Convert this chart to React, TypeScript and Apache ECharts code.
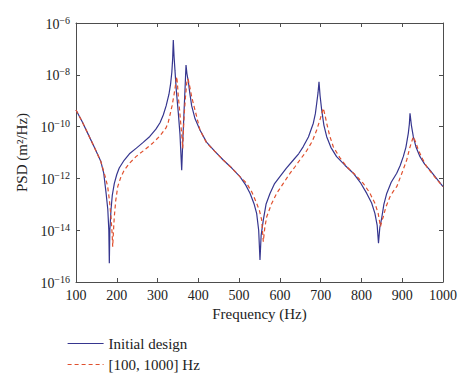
import React, { useEffect, useRef } from "react";
import * as echarts from "echarts";

// Frequency (Hz) and log10 of the PSD (m^2/Hz) for each design
const initialFreq = [100, 115, 130, 145, 161, 168, 174, 178, 180.5, 181.7, 183, 185.8, 189, 194, 200, 206, 218, 231, 248, 264, 281, 296, 306, 314, 321, 328, 332, 335, 337, 338.6, 340.5, 342.8, 346, 350.9, 355, 359.2, 362, 364.8, 367.5, 369.8, 372, 375.4, 379, 383.7, 392, 404, 420, 440, 461, 482, 502, 516, 527, 537, 543, 548, 551.2, 554, 559.3, 566, 575.7, 587, 600, 616, 633, 646, 657, 670, 682, 687, 690.3, 693.5, 695.9, 698.5, 702.5, 708, 714.8, 725, 739, 760, 780, 797, 813, 825, 833, 838.5, 841.8, 845, 849.7, 855, 862, 873, 886.5, 895, 902.6, 909, 914.9, 917.5, 919.1, 922.5, 927.2, 934, 943.6, 955, 968, 984, 1000];
const initialLogPsd = [-9.36, -9.8, -10.3, -10.8, -11.35, -11.8, -12.6, -13.2, -14.0, -15.28, -14.0, -13.22, -12.65, -12.19, -11.85, -11.6, -11.3, -11.05, -10.83, -10.62, -10.38, -10.1, -9.85, -9.55, -9.2, -8.75, -8.35, -7.9, -7.4, -6.66, -7.3, -7.85, -8.6, -9.47, -10.3, -11.68, -10.5, -9.47, -8.5, -7.62, -7.95, -8.25, -8.7, -9.2, -9.7, -10.13, -10.6, -10.95, -11.29, -11.6, -11.93, -12.25, -12.58, -13.0, -13.35, -14.0, -15.15, -14.2, -13.61, -13.0, -12.58, -12.2, -11.93, -11.6, -11.29, -11.05, -10.78, -10.4, -9.87, -9.5, -9.1, -8.7, -8.27, -8.8, -9.36, -9.95, -10.39, -10.8, -11.16, -11.5, -11.8, -12.15, -12.58, -12.95, -13.35, -13.8, -14.5, -13.9, -13.53, -13.0, -12.58, -12.15, -11.8, -11.5, -11.16, -10.8, -10.26, -9.9, -9.49, -9.95, -10.39, -10.8, -11.16, -11.45, -11.68, -12.0, -12.32];

const bandFreq = [100, 115, 130, 145, 161, 165.5, 172, 177.7, 182, 185.8, 188.5, 190, 192, 193.9, 197.5, 202.3, 210, 218.4, 232, 247, 268, 288, 306, 320.7, 326, 330.5, 335.5, 340.3, 344, 347, 349, 350.9, 354, 356.8, 359.5, 361.7, 363.6, 365.6, 368.5, 371.5, 373.5, 375.4, 379.5, 383.7, 390, 396, 404, 420, 440, 461, 482, 502, 518.6, 532, 543, 550, 555.4, 559.3, 563, 567.7, 579, 592, 608, 625, 637, 649, 665, 680, 690.3, 699, 706.5, 710.5, 714.8, 722, 731, 747, 764, 784, 804.5, 820, 833, 841, 846.7, 850, 853.6, 860, 870, 878, 886.5, 898, 911, 919, 927.2, 933, 939.4, 950, 960, 980, 1000];
const bandLogPsd = [-9.36, -9.8, -10.3, -10.8, -11.35, -11.6, -11.95, -12.32, -12.85, -13.48, -14.1, -14.64, -14.0, -13.48, -12.85, -12.32, -11.95, -11.68, -11.4, -11.16, -10.9, -10.64, -10.36, -10.05, -9.85, -9.55, -9.2, -8.78, -8.4, -8.07, -8.4, -8.85, -9.35, -9.86, -10.35, -10.84, -10.1, -9.47, -8.85, -8.33, -8.15, -8.2, -8.5, -8.85, -9.25, -9.62, -10.13, -10.62, -10.95, -11.29, -11.6, -11.93, -12.19, -12.55, -12.96, -13.25, -13.61, -14.44, -13.9, -13.48, -13.0, -12.58, -12.2, -11.8, -11.55, -11.29, -10.95, -10.55, -10.13, -9.7, -9.29, -9.55, -9.87, -10.35, -10.78, -11.2, -11.55, -11.85, -12.19, -12.55, -12.96, -13.35, -13.86, -13.65, -13.48, -13.1, -12.71, -12.5, -12.32, -11.85, -11.29, -10.79, -10.39, -10.6, -10.9, -11.25, -11.55, -11.95, -12.32];

const seriesNames = ["Initial design", "[100, 1000] Hz"];
const xTicks = { min: 100, max: 1000, step: 100 };
const yTicks = { min: 1e-16, max: 1e-6, decadeStep: 2 };

const FONT = "'Liberation Serif', 'Times New Roman', serif";
const AXIS_COLOR = "#4d4d4d";
const TEXT_COLOR = "#222";

function pairs(xs: number[], logs: number[]) {
  return xs.map((x, i) => [x, Math.pow(10, logs[i])]);
}

export default function App() {
  const ref = useRef<HTMLDivElement>(null);

  useEffect(() => {
    if (!ref.current) return;
    const chart = echarts.init(ref.current, undefined, { renderer: "svg" });

    const axisLine = { show: true, lineStyle: { color: AXIS_COLOR, width: 1 } };
    const tick = { show: true, inside: true, length: 4, lineStyle: { color: AXIS_COLOR } };

    const expLabel = (v: number) => {
      const e = Math.round(Math.log10(v));
      return `{b|10}{s|${e < 0 ? "\u2212" + -e : e}}`;
    };

    chart.setOption({
      animation: false,
      backgroundColor: "#ffffff",
      grid: { left: 76, right: 31, top: 23, bottom: 104, containLabel: false },
      legend: {
        orient: "vertical",
        left: 62,
        top: 331,
        itemWidth: 36,
        itemHeight: 14,
        itemGap: 6,
        itemStyle: { opacity: 0 },
        lineStyle: { width: 1.2 },
        textStyle: { fontFamily: FONT, fontSize: 15, color: TEXT_COLOR, lineHeight: 14 },
        data: seriesNames,
      },
      xAxis: [
        {
          type: "value",
          min: xTicks.min,
          max: xTicks.max,
          interval: xTicks.step,
          name: "Frequency (Hz)",
          nameLocation: "middle",
          nameGap: 24,
          nameTextStyle: { fontFamily: FONT, fontSize: 15, color: TEXT_COLOR },
          axisLine,
          axisTick: tick,
          axisLabel: {
            fontFamily: FONT,
            fontSize: 14,
            color: TEXT_COLOR,
            margin: 6,
            formatter: (v: number) => String(v),
          },
          splitLine: { show: false },
        },
        {
          type: "value",
          position: "top",
          min: xTicks.min,
          max: xTicks.max,
          interval: xTicks.step,
          axisLine,
          axisTick: tick,
          axisLabel: { show: false },
          splitLine: { show: false },
        },
      ],
      yAxis: [
        {
          type: "log",
          logBase: 10,
          min: yTicks.min,
          max: yTicks.max,
          interval: yTicks.decadeStep,
          name: "PSD (m\u00b2/Hz)",
          nameLocation: "middle",
          nameGap: 42,
          nameTextStyle: { fontFamily: FONT, fontSize: 15, color: TEXT_COLOR },
          axisLine,
          axisTick: tick,
          minorTick: { show: false },
          axisLabel: {
            margin: 6,
            formatter: expLabel,
            rich: {
              b: { fontFamily: FONT, fontSize: 14, color: TEXT_COLOR, verticalAlign: "bottom", lineHeight: 16 },
              s: { fontFamily: FONT, fontSize: 10, color: TEXT_COLOR, verticalAlign: "top", lineHeight: 16, padding: [0, 0, 6, 0] },
            },
          },
          splitLine: { show: false },
        },
        {
          type: "log",
          logBase: 10,
          position: "right",
          min: yTicks.min,
          max: yTicks.max,
          interval: yTicks.decadeStep,
          axisLine,
          axisTick: tick,
          axisLabel: { show: false },
          splitLine: { show: false },
        },
      ],
      series: [
        {
          name: seriesNames[0],
          type: "line",
          symbol: "none",
          data: pairs(initialFreq, initialLogPsd),
          lineStyle: { color: "#36368f", width: 1.2 },
          itemStyle: { color: "#36368f" },
          z: 3,
        },
        {
          name: seriesNames[1],
          type: "line",
          symbol: "none",
          data: pairs(bandFreq, bandLogPsd),
          lineStyle: { color: "#e0502e", width: 1.2, type: [4, 3] },
          itemStyle: { color: "#e0502e" },
          z: 4,
        },
      ],
    });

    return () => chart.dispose();
  }, []);

  return <div ref={ref} style={{ width: 474, height: 386, margin: -8 }} />;
}
